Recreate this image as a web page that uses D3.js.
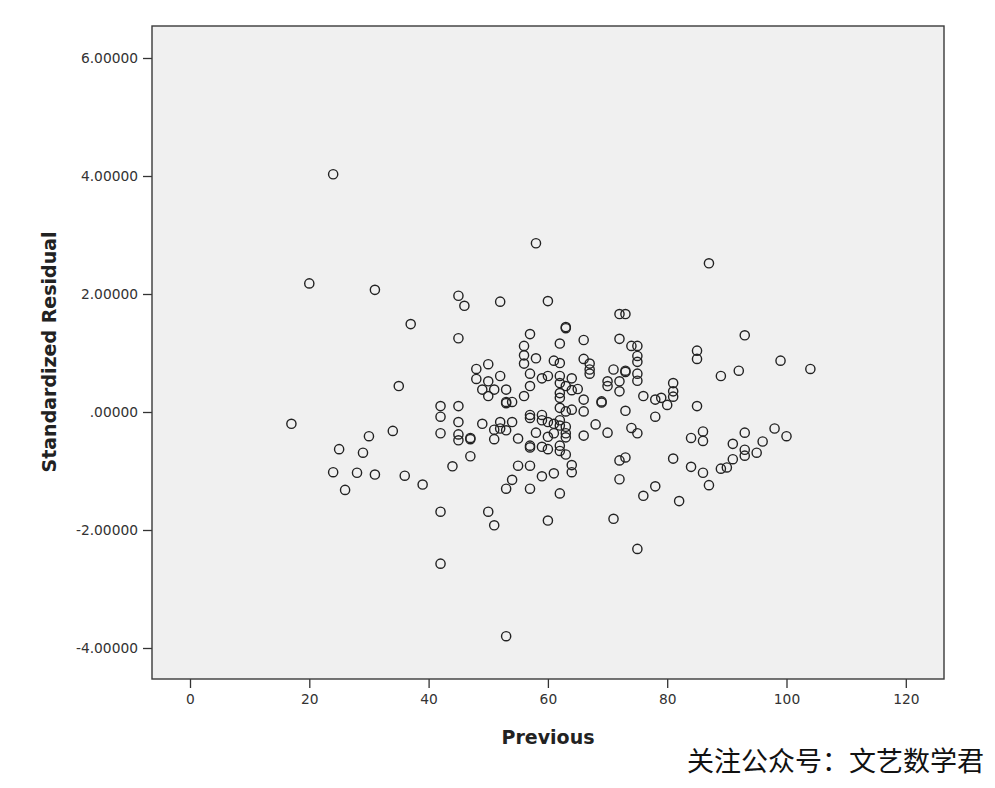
<!DOCTYPE html>
<html>
<head>
<meta charset="utf-8">
<script src="https://cdn.jsdelivr.net/npm/d3@7"></script>
<style>
  html, body { margin: 0; padding: 0; background: #ffffff; }
  svg { display: block; }
</style>
</head>
<body>
<svg id="chart" width="995" height="788"></svg>
<script>
// ---- data ----
const previous = [
  24, 20, 31, 37, 35, 17, 34, 30, 25, 29, 24, 28, 31, 36, 39, 26,
  42, 42, 42, 42, 42, 44, 45, 45, 45, 45, 45, 45, 46, 47, 47, 47,
  48, 48, 49, 49, 50, 50, 50, 50, 51, 51, 51, 51, 52, 52, 52, 52,
  53, 53, 53, 53, 53, 53, 54, 54, 54, 55, 55, 56, 56, 56, 56,
  57, 57, 57, 57, 57, 57, 57, 57, 57, 58, 58, 58, 59, 59, 59, 59, 59,
  60, 60, 60, 60, 60, 60, 61, 61, 61, 61,
  62, 62, 62, 62, 62, 62, 62, 62, 62, 62, 62, 62,
  63, 63, 63, 63, 63, 63, 63, 63, 64, 64, 64, 64, 64, 65,
  66, 66, 66, 66, 66, 67, 67, 67, 68, 69, 69, 70, 70, 70, 71, 71,
  72, 72, 72, 72, 72, 72, 73, 73, 73, 73, 73, 74, 74,
  75, 75, 75, 75, 75, 75, 75, 76, 76, 78, 78, 78, 79, 80,
  81, 81, 81, 81, 82, 84, 84, 85, 85, 85, 86, 86, 86, 87, 87,
  89, 89, 90, 91, 91, 92, 93, 93, 93, 93, 95, 96, 98, 99, 100, 104
];
const stdResidual = [
  4.03, 2.18, 2.07, 1.49, 0.44, -0.20, -0.32, -0.41, -0.63, -0.69, -1.02, -1.03, -1.06, -1.08, -1.23, -1.32,
  0.10, -0.08, -0.36, -1.69, -2.57, -0.92, 1.97, 1.25, 0.10, -0.17, -0.38, -0.48, 1.80, -0.44, -0.46, -0.75,
  0.73, 0.56, 0.38, -0.20, 0.81, 0.52, 0.27, -1.69, 0.38, -0.30, -0.46, -1.92, 1.87, 0.61, -0.17, -0.28,
  0.38, 0.17, 0.15, -0.31, -1.30, -3.80, 0.17, -0.17, -1.15, -0.45, -0.91, 1.12, 0.96, 0.82, 0.27,
  1.32, 0.65, 0.44, -0.05, -0.10, -0.57, -0.60, -0.91, -1.30, 2.86, 0.91, -0.35, 0.57, -0.05, -0.14, -0.59, -1.09,
  1.88, 0.61, -0.17, -0.42, -0.63, -1.84, 0.87, -0.20, -0.36, -1.04,
  1.16, 0.83, 0.61, 0.49, 0.32, 0.24, 0.07, -0.14, -0.23, -0.57, -0.66, -1.38,
  1.44, 1.42, 0.44, 0.01, -0.25, -0.36, -0.43, -0.72, 0.57, 0.37, 0.04, -0.90, -1.02, 0.39,
  1.22, 0.90, 0.21, 0.01, -0.40, 0.82, 0.72, 0.65, -0.21, 0.18, 0.16, 0.52, 0.44, -0.35, 0.72, -1.81,
  1.66, 1.24, 0.52, 0.35, -0.82, -1.14, 1.66, 0.70, 0.68, 0.02, -0.77, 1.12, -0.27,
  1.12, 0.95, 0.85, 0.65, 0.53, -0.36, -2.32, 0.27, -1.42, 0.21, -0.08, -1.26, 0.24, 0.12,
  0.49, 0.35, 0.26, -0.79, -1.51, -0.44, -0.93, 1.04, 0.90, 0.10, -0.33, -0.49, -1.03, 2.52, -1.24,
  0.61, -0.96, -0.94, -0.54, -0.80, 0.70, 1.30, -0.35, -0.64, -0.74, -0.69, -0.50, -0.28, 0.87, -0.41, 0.73
];
const xTicks = [0, 20, 40, 60, 80, 100, 120];
const yTicks = [-4, -2, 0, 2, 4, 6];
const xTitle = "Previous";
const yTitle = "Standardized Residual";
const watermark = "关注公众号：文艺数学君";

// ---- layout ----
const svg = d3.select("#chart");
const plot = { left: 152, top: 26, right: 944, bottom: 679 };

const x = d3.scaleLinear()
  .domain([(plot.left - 190) / 5.965, (plot.right - 190) / 5.965])
  .range([plot.left, plot.right]);
const y = d3.scaleLinear()
  .domain([(412 - plot.bottom) / 59, (412 - plot.top) / 59])
  .range([plot.bottom, plot.top]);

// plot background
svg.append("rect")
  .attr("x", plot.left).attr("y", plot.top)
  .attr("width", plot.right - plot.left)
  .attr("height", plot.bottom - plot.top)
  .attr("fill", "#f0f0f0");

const yFmt = v => {
  let s = d3.format(".5f")(Math.abs(v));
  if (v === 0) s = s.replace(/^0/, "");
  return (v < 0 ? "-" : "") + s;
};

const tickFont = "'DejaVu Sans', Verdana, sans-serif";

const yAxis = svg.append("g")
  .attr("transform", `translate(${plot.left},0)`)
  .call(d3.axisLeft(y).tickValues(yTicks).tickFormat(yFmt).tickSize(9).tickPadding(5));
const xAxis = svg.append("g")
  .attr("transform", `translate(0,${plot.bottom})`)
  .call(d3.axisBottom(x).tickValues(xTicks).tickFormat(d3.format("d")).tickSize(9).tickPadding(6));

[yAxis, xAxis].forEach(g => {
  g.select(".domain").remove();
  g.selectAll(".tick line").attr("stroke", "#333").attr("stroke-width", 1.3);
  g.selectAll(".tick text")
    .attr("fill", "#333")
    .style("font-family", tickFont)
    .style("font-size", "13.8px");
});

// frame
svg.append("rect")
  .attr("x", plot.left).attr("y", plot.top)
  .attr("width", plot.right - plot.left)
  .attr("height", plot.bottom - plot.top)
  .attr("fill", "none")
  .attr("stroke", "#3a3a3a")
  .attr("stroke-width", 1.4);

// points
svg.append("g")
  .selectAll("circle")
  .data(previous.map((p, i) => ({ p, r: stdResidual[i] })))
  .join("circle")
  .attr("cx", d => x(d.p))
  .attr("cy", d => y(d.r))
  .attr("r", 4.6)
  .attr("fill", "none")
  .attr("stroke", "#222")
  .attr("stroke-width", 1.4);

// axis titles
svg.append("text")
  .attr("x", (plot.left + plot.right) / 2)
  .attr("y", 744)
  .attr("text-anchor", "middle")
  .style("font-family", tickFont)
  .style("font-weight", "bold")
  .style("font-size", "19px")
  .attr("fill", "#222")
  .text(xTitle);

svg.append("text")
  .attr("transform", `translate(56,352) rotate(-90)`)
  .attr("text-anchor", "middle")
  .style("font-family", tickFont)
  .style("font-weight", "bold")
  .style("font-size", "19px")
  .attr("fill", "#222")
  .text(yTitle);

// watermark
svg.append("text")
  .attr("x", 984)
  .attr("y", 771)
  .attr("text-anchor", "end")
  .style("font-family", "'Noto Sans CJK SC', sans-serif")
  .style("font-size", "27px")
  .attr("fill", "#111")
  .text(watermark);
</script>
</body>
</html>
